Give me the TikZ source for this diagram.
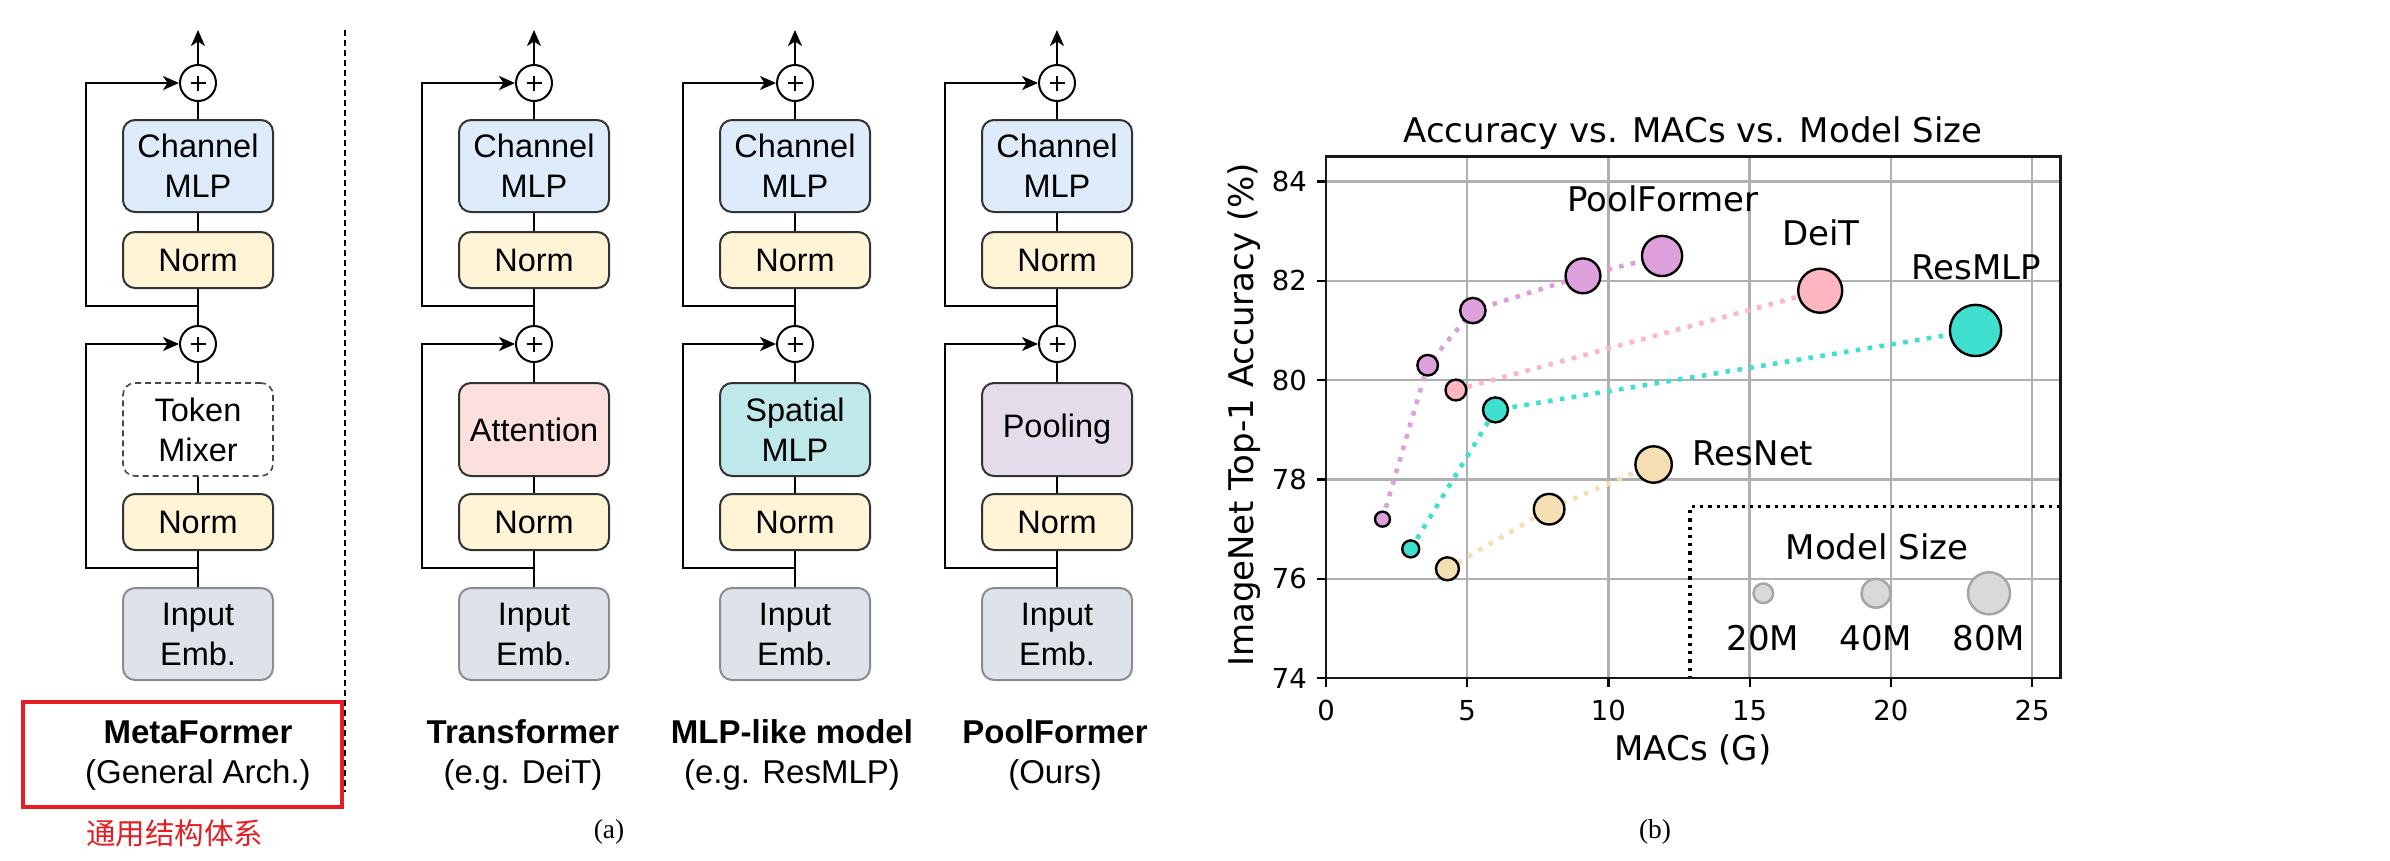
\documentclass[tikz,border=0pt]{standalone}
\usepackage{fontspec}
\setmainfont{Liberation Sans}
\newfontfamily\dvs{DejaVu Sans}
\newfontfamily\tms{Liberation Serif}
\newfontfamily\cjk{Noto Sans CJK SC}
\usetikzlibrary{arrows.meta,calc}
\definecolor{cblue}{HTML}{DEEBFB}
\definecolor{cyel}{HTML}{FFF4D6}
\definecolor{catt}{HTML}{FBE0DD}
\definecolor{cspa}{HTML}{BFE8EA}
\definecolor{cpool}{HTML}{E4DCEB}
\definecolor{cinp}{HTML}{DDE3E9}
\definecolor{cinpe}{HTML}{8C8C8C}
\definecolor{cedge}{HTML}{333333}
\definecolor{cpf}{RGB}{221,160,221}
\definecolor{cdeit}{RGB}{255,182,193}
\definecolor{cmlp}{RGB}{64,224,208}
\definecolor{cres}{RGB}{245,222,179}
\definecolor{cgrid}{HTML}{B0B0B0}
\definecolor{cred}{RGB}{230,30,36}
\definecolor{clgf}{HTML}{D9D9D9}
\definecolor{clge}{HTML}{A5A5A5}

\newcommand\archcol[4]{%
  \coordinate (#1top) at (#2,30);
  \node[plusc] (#1p1) at (#2,83) {};
  \node[blk, fill=cblue, minimum height=92pt] (#1cm) at (#2,166) {Channel\\MLP};
  \node[blk, fill=cyel, minimum height=56pt] (#1n1) at (#2,260) {Norm};
  \coordinate (#1j1) at (#2,306);
  \coordinate (#1k1) at (#2-112,306);
  \node[plusc] (#1p2) at (#2,344) {};
  \node[blk, #3, minimum height=93pt] (#1mx) at (#2,429.5) {#4};
  \node[blk, fill=cyel, minimum height=56pt] (#1n2) at (#2,522) {Norm};
  \coordinate (#1j2) at (#2,568);
  \coordinate (#1k2) at (#2-112,568);
  \node[blk, draw=cinpe, fill=cinp, minimum height=92pt] (#1in) at (#2,634) {Input\\Emb.};
  \draw[ln] (#1in) -- (#1n2);
  \draw[ln] (#1n2) -- (#1mx);
  \draw[ln] (#1mx) -- (#1p2);
  \draw[ln] (#1p2) -- (#1n1);
  \draw[ln] (#1n1) -- (#1cm);
  \draw[ln] (#1cm) -- (#1p1);
  \draw[arr] (#1p1) -- (#1top);
  \draw[arr] (#1j1) -- (#1k1) |- (#1p1);
  \draw[arr] (#1j2) -- (#1k2) |- (#1p2);
}

\begin{document}
\begin{tikzpicture}[x=1pt,y=-1pt,
  blk/.style={draw=cedge, line width=2pt, rounded corners=12pt, minimum width=150pt,
    align=center, inner sep=0pt, font=\fontsize{32.5}{40}\selectfont},
  ln/.style={line width=2pt, draw=black},
  arr/.style={ln, -{Stealth[length=16pt,width=14pt,inset=4.5pt]}},
  plusc/.style={circle, draw=black, line width=2pt, fill=white, minimum size=36pt, inner sep=0pt,
    path picture={\draw[line width=2.8pt]
      ([xshift=-7.5pt]path picture bounding box.center) -- ([xshift=7.5pt]path picture bounding box.center)
      ([yshift=-7.5pt]path picture bounding box.center) -- ([yshift=7.5pt]path picture bounding box.center);}},
  lbl/.style={inner sep=0pt, font=\fontsize{33}{40}\selectfont},
  pt34/.style={inner sep=0pt, font=\dvs\fontsize{34}{40}\selectfont},
  tk/.style={inner sep=0pt, font=\dvs\fontsize{27.5}{30}\selectfont},
  grid/.style={draw=cgrid, line width=2.4pt},
  dl/.style={line width=4.6pt, dash pattern=on 4.6pt off 7.4pt},
  mk/.style={draw=black, line width=2.4pt},
  lgc/.style={draw=clge, fill=clgf, line width=2.5pt},
  lgbox/.style={draw=black, line width=3.3pt, dash pattern=on 3.3pt off 5pt},
  sep/.style={draw=black, line width=1.4pt, dash pattern=on 6pt off 4pt}
]
\useasboundingbox (0,0) rectangle (2390,860);

% ---------- (a) architectures ----------
\archcol{mf}{198}{fill=white, draw=cedge!90, line width=1.6pt, dash pattern=on 6pt off 4pt}{Token\\Mixer}
\archcol{tf}{534}{fill=catt}{Attention}
\archcol{ml}{795}{fill=cspa}{Spatial\\MLP}
\archcol{pf}{1057}{fill=cpool}{Pooling}

\coordinate (sepa) at (345,30);
\coordinate (sepb) at (345,792);
\draw[sep] (sepa) -- (sepb);

\node[lbl, anchor=base] (mfl1) at (198,743) {\bfseries MetaFormer};
\node[lbl, anchor=base] (mfl2) at (198,783) {(General Arch.)};
\node[draw=cred, line width=3.3pt, minimum width=319pt, minimum height=105pt, inner sep=0pt] (redbox) at (182.5,754.5) {};
\node[inner sep=0pt, font=\cjk\fontsize{29.5}{32}\selectfont, text=cred, anchor=base] (zh) at (174.5,844) {通用结构体系};

\node[lbl, anchor=base] (tfl1) at (523,743) {\bfseries Transformer};
\node[lbl, anchor=base] (tfl2) at (523,783) {(e.g. DeiT)};
\node[lbl, anchor=base] (mll1) at (792,743) {\bfseries MLP-like model};
\node[lbl, anchor=base] (mll2) at (792,783) {(e.g. ResMLP)};
\node[lbl, anchor=base] (pfl1) at (1055,743) {\bfseries PoolFormer};
\node[lbl, anchor=base] (pfl2) at (1055,783) {(Ours)};

\node[inner sep=0pt, font=\tms\fontsize{27.4}{30}\selectfont, anchor=base] (capa) at (609,838.5) {(a)};
\node[inner sep=0pt, font=\tms\fontsize{27.4}{30}\selectfont, anchor=base] (capb) at (1655,838.5) {(b)};

% ---------- (b) plot ----------
\begin{scope}[shift={(1326pt,-678pt)}, x=28.24pt, y=49.65pt]
  \foreach \gx in {5,10,15,20,25} \draw[grid] (\gx,0) -- (\gx,10.5);
  \foreach \gy in {2,4,6,8,10} \draw[grid] (0,\gy) -- (26,\gy);
  \draw[lgbox] (26,3.45) -- (12.89,3.45) -- (12.89,0);
  % connecting lines
  \draw[dl, cpf] (2.0,3.2) -- (3.6,6.3) -- (5.2,7.4) -- (9.1,8.1) -- (11.9,8.5);
  \draw[dl, cdeit] (4.6,5.8) -- (17.5,7.8);
  \draw[dl, cmlp] (3.0,2.6) -- (6.0,5.4) -- (23.0,7.0);
  \draw[dl, cres] (4.3,2.2) -- (7.9,3.4) -- (11.6,4.3);
  % markers
  \draw[mk, fill=cpf] (2.0,3.2) circle[radius=7.5pt];
  \draw[mk, fill=cpf] (3.6,6.3) circle[radius=10.3pt];
  \draw[mk, fill=cpf] (5.2,7.4) circle[radius=12.7pt];
  \draw[mk, fill=cpf] (9.1,8.1) circle[radius=17.4pt];
  \draw[mk, fill=cpf] (11.9,8.5) circle[radius=20.1pt];
  \draw[mk, fill=cdeit] (4.6,5.8) circle[radius=10.4pt];
  \draw[mk, fill=cdeit] (17.5,7.8) circle[radius=22pt];
  \draw[mk, fill=cmlp] (3.0,2.6) circle[radius=8.5pt];
  \draw[mk, fill=cmlp] (6.0,5.4) circle[radius=12.5pt];
  \draw[mk, fill=cmlp] (23.0,7.0) circle[radius=25.6pt];
  \draw[mk, fill=cres] (4.3,2.2) circle[radius=11.5pt];
  \draw[mk, fill=cres] (7.9,3.4) circle[radius=15.3pt];
  \draw[mk, fill=cres] (11.6,4.3) circle[radius=18.2pt];
  % ticks
  \foreach \v/\t in {0/74,2/76,4/78,6/80,8/82,10/84} {
    \draw[line width=2.2pt] (0,\v) -- ++(-9pt,0);
    \node[tk, anchor=east] (yt\t) at ([xshift=-19pt]0,\v) {\t};
  }
  \foreach \v in {0,5,10,15,20,25} {
    \draw[line width=2.2pt] (\v,0) -- ++(0,-9pt);
    \node[tk, anchor=north] (xt\v) at ([yshift=-22pt]\v,0) {\v};
  }
  \draw[line width=2.6pt, draw=black!90] (0,0) rectangle (26,10.5);
\end{scope}

% legend circles
\draw[lgc] (1763.3,593.3) circle[radius=9.8pt];
\draw[lgc] (1876,593.3) circle[radius=14.4pt];
\draw[lgc] (1989,593.3) circle[radius=21pt];

\node[pt34, anchor=base] (title) at (1693,142.7) {Accuracy vs. MACs vs. Model Size};
\node[pt34, anchor=base] (lpf) at (1663,211) {PoolFormer};
\node[pt34, anchor=base] (ldeit) at (1821,245.7) {DeiT};
\node[pt34, anchor=base] (lmlp) at (1976,279) {ResMLP};
\node[pt34, anchor=base] (lres) at (1753,465) {ResNet};
\node[pt34, anchor=base, rotate=90] (ylab) at (1253,415) {ImageNet Top-1 Accuracy (\%)};
\node[pt34, anchor=base] (xlab) at (1693,760) {MACs (G)};
\node[pt34, anchor=base] (lgt) at (1877,559) {Model Size};
\node[pt34, anchor=base] (lg20) at (1763,650.7) {20M};
\node[pt34, anchor=base] (lg40) at (1876,650.7) {40M};
\node[pt34, anchor=base] (lg80) at (1989,650.7) {80M};
\end{tikzpicture}
\end{document}
